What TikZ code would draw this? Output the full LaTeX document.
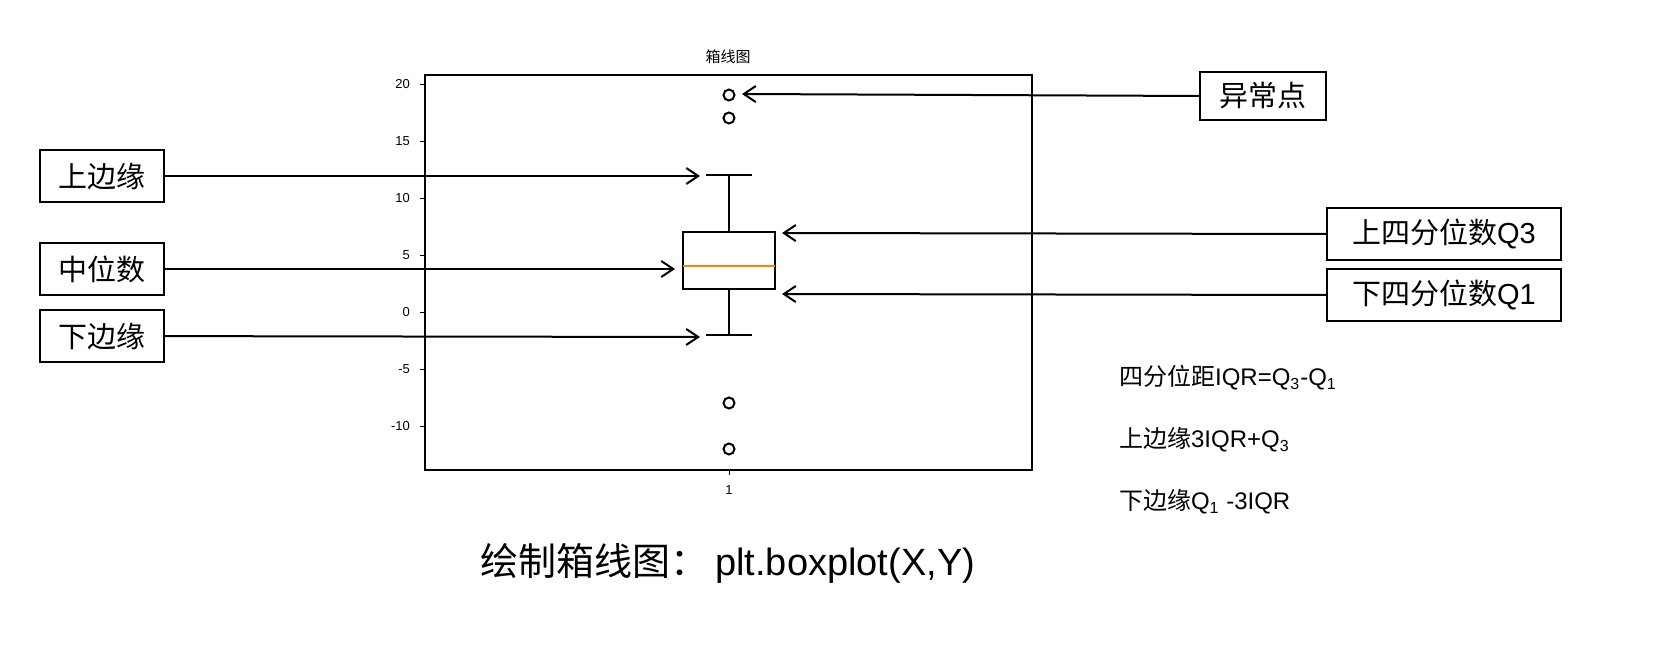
\documentclass[tikz,border=0pt]{standalone}
\usepackage{fontspec}
\setmainfont{Noto Sans CJK SC}
\setsansfont{Liberation Sans}
\usetikzlibrary{arrows.meta}
\begin{document}
\begin{tikzpicture}[x=0.5pt,y=-0.5pt,
  lbl/.style={draw,line width=0.8pt,inner sep=0pt,minimum height=26pt,font=\fontsize{14.5}{16}\selectfont},
  arr/.style={line width=1pt,-{Straight Barb[length=6pt,width=8pt]}},
  tick/.style={font=\sffamily\fontsize{6.5}{7}\selectfont,anchor=east},
  note/.style={anchor=west,font=\fontsize{12}{14}\selectfont}]
\useasboundingbox (0,0) rectangle (1671,646);
\fill[white] (0,0) rectangle (1671,646);
% axes
\draw[line width=0.8pt] (425,75) rectangle (1032,470);
\node[font=\fontsize{7.5}{8}\selectfont] (title) at (728,57) {箱线图};
\foreach \v/\t in {20/20,15/15,10/10,5/5,0/0,-5/-5,-10/-10}{
  \draw (425,{312-11.4*\v}) -- (420,{312-11.4*\v});
  \node[tick] at (417,{312-11.4*\v}) {\t};}
\draw (729,470) -- (729,475);
\node[font=\sffamily\fontsize{6.5}{7}\selectfont] (xt) at (729,490) {1};
% box
\draw[line width=0.8pt] (683,232) rectangle (775,289);
\draw[orange,line width=1pt] (683,266) -- (775,266);
\draw[line width=0.8pt] (729,232) -- (729,175) (706,175) -- (752,175);
\draw[line width=0.8pt] (729,289) -- (729,335) (706,335) -- (752,335);
\foreach \y in {95,118,403,449} \draw[line width=1pt] (729,\y) circle (5.5);
\coordinate (uw) at (700,176);
\coordinate (md) at (675,269);
\coordinate (lw) at (700,337);
\coordinate (ol) at (742,94);
\coordinate (q3) at (782,233);
\coordinate (q1) at (782,294);
% labels
\node[lbl,minimum width=62pt] (a) at (102,176) {上边缘};
\node[lbl,minimum width=62pt] (b) at (102,269) {中位数};
\node[lbl,minimum width=62pt] (c) at (102,336) {下边缘};
\node[lbl,minimum width=63pt,minimum height=24pt] (d) at (1263,96) {异常点};
\node[lbl,minimum width=117pt] (e) at (1444,234) {上四分位数\sffamily Q3};
\node[lbl,minimum width=117pt] (f) at (1444,295) {下四分位数\sffamily Q1};
\draw[arr] (a) -- (uw);
\draw[arr] (b) -- (md);
\draw[arr] (c) -- (lw);
\draw[arr] (d.west) -- (ol);
\draw[arr] (e.west) -- (q3);
\draw[arr] (f.west) -- (q1);
% notes
\node[note] (n1) at (1112,378) {四分位距\sffamily IQR=Q\textsubscript{3}-Q\textsubscript{1}};
\node[note] (n2) at (1112,440) {上边缘\sffamily 3IQR+Q\textsubscript{3}};
\node[note] (n3) at (1112,502) {下边缘\sffamily Q\textsubscript{1} -3IQR};
\node[font=\fontsize{19}{22}\selectfont] (bt) at (728,563) {绘制箱线图：\,{\sffamily plt.boxplot(X,Y)}};
\end{tikzpicture}
\end{document}
